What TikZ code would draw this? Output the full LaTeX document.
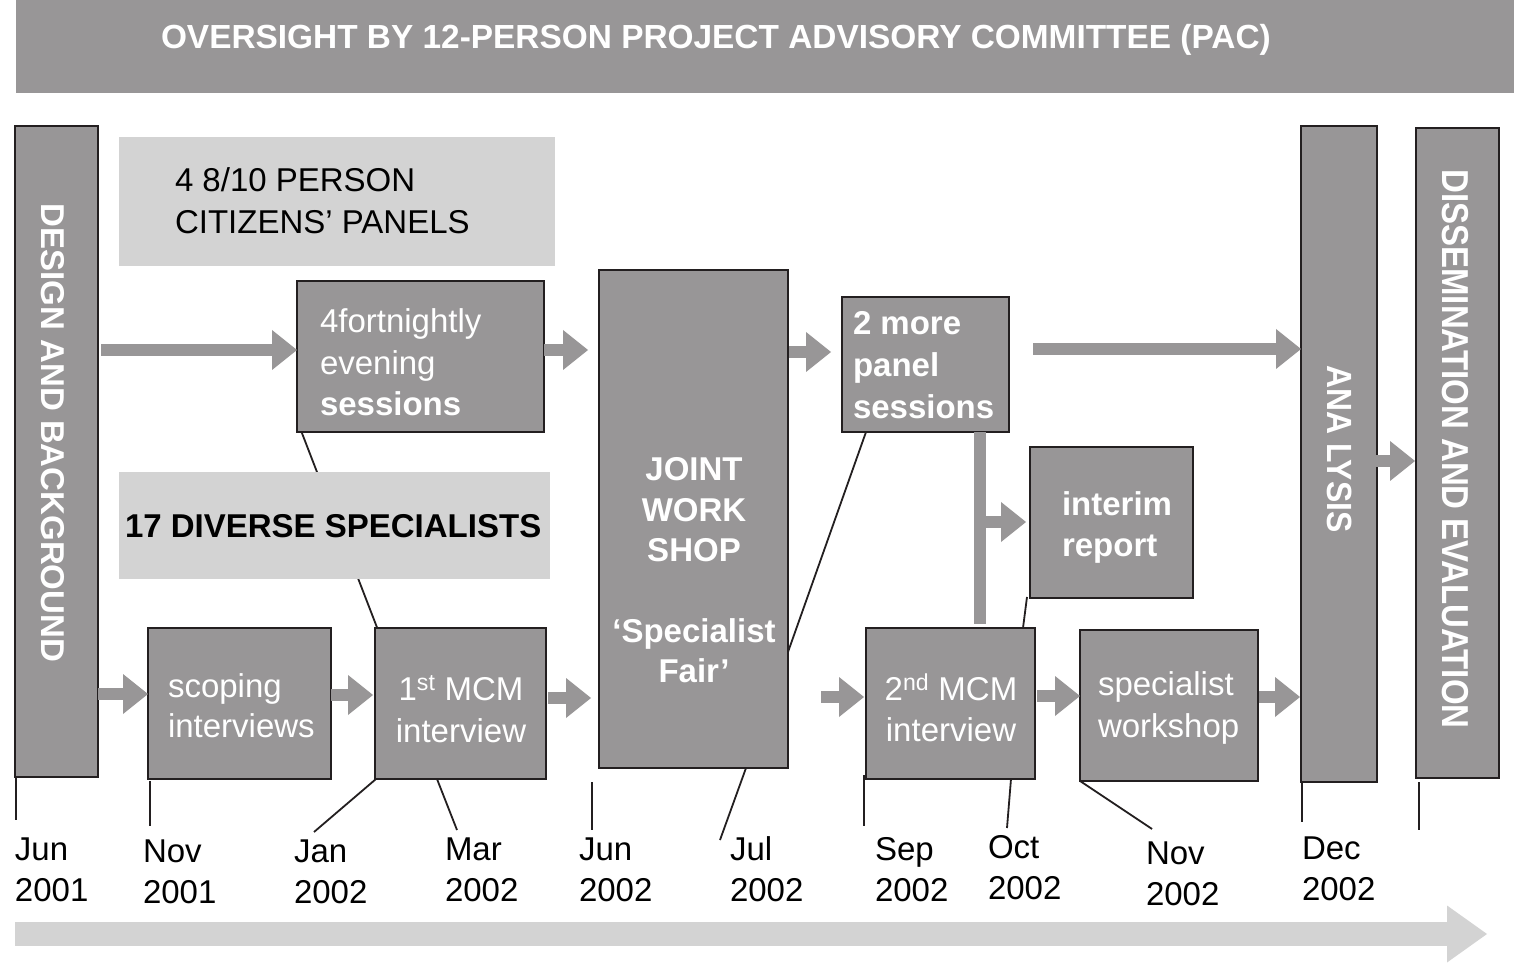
\documentclass[tikz,border=0pt]{standalone}
\usepackage{fontspec}
\setmainfont{Liberation Sans}
\usetikzlibrary{arrows.meta,calc}
\definecolor{boxgray}{RGB}{152,150,151}
\definecolor{paleg}{RGB}{211,211,211}
\definecolor{inkline}{RGB}{35,31,32}
\pgfdeclarelayer{background}
\pgfdeclarelayer{paper}
\pgfsetlayers{paper,background,main}
\newcommand\mylinesl[1]{\begin{tabular}[t]{@{}l@{}}#1\end{tabular}}
\newcommand\mylinesc[1]{\begin{tabular}[t]{@{}c@{}}#1\end{tabular}}
\begin{document}
\begin{tikzpicture}[x=1pt,y=-1pt,
  dbox/.style={draw=inkline, line width=1.3pt, fill=boxgray, inner sep=0pt, outer sep=0pt},
  lbox/.style={fill=paleg, inner sep=0pt, outer sep=0pt},
  txt/.style={inner sep=0pt, outer sep=0pt, font=\fontsize{33}{41}\selectfont},
  wtxt/.style={txt, text=white},
  wbold/.style={txt, text=white, font=\fontsize{33}{41}\selectfont\bfseries},
  btxt/.style={txt, text=black},
  bbold/.style={txt, text=black, font=\fontsize{33}{41}\selectfont\bfseries},
  barrow/.style={draw=boxgray, line width=12pt, -{Triangle[length=25pt,width=40pt,line width=0pt]}},
  tarrow/.style={draw=paleg, line width=24pt, -{Triangle[length=40pt,width=57pt,line width=0pt]}},
  tick/.style={draw=inkline, line width=1.8pt},
]
\useasboundingbox (0,0) rectangle (1519,965);
\begin{pgfonlayer}{paper}
\fill[white] (0,0) rectangle (1519,965);
\end{pgfonlayer}

% banner
\node[fill=boxgray, inner sep=0pt, minimum width=1498pt, minimum height=93pt] (banner) at (765,46.5) {};
\node[wbold, anchor=base west, font=\fontsize{33.4}{41}\selectfont\bfseries] (bannertxt) at (161,49) {OVERSIGHT BY 12-PERSON PROJECT ADVISORY COMMITTEE (PAC)};

% boxes
\node[dbox, minimum width=83pt, minimum height=651pt] (design) at (56.5,451.5) {};
\node[lbox, minimum width=436pt, minimum height=129pt] (panels) at (337,201.5) {};
\node[dbox, minimum width=247pt, minimum height=151pt] (sess) at (420.5,356.5) {};
\node[lbox, minimum width=431pt, minimum height=107pt] (spec) at (334.5,525.5) {};
\node[dbox, minimum width=183pt, minimum height=151pt] (scoping) at (239.5,703.5) {};
\node[dbox, minimum width=171pt, minimum height=151pt] (mcm1) at (460.5,703.5) {};
\node[dbox, minimum width=189pt, minimum height=498pt] (joint) at (693.5,519) {};
\node[dbox, minimum width=167pt, minimum height=135pt] (twomore) at (925.5,364.5) {};
\node[dbox, minimum width=163pt, minimum height=151pt] (interim) at (1111.5,522.5) {};
\node[dbox, minimum width=169pt, minimum height=151pt] (mcm2) at (950.5,703.5) {};
\node[dbox, minimum width=178pt, minimum height=151pt] (wshop) at (1169,705.5) {};
\node[dbox, minimum width=76pt, minimum height=656pt] (analysis) at (1339,454) {};
\node[dbox, minimum width=83pt, minimum height=650pt] (dissem) at (1457.5,453) {};

% free ends of the date ticks
\coordinate (cJun1) at (16,820);
\coordinate (cNov1) at (150,826);
\coordinate (cJan2) at (314,832);
\coordinate (cMar2) at (457,830);
\coordinate (cJun2a) at (592,782);
\coordinate (cJun2b) at (592,830);
\coordinate (cJul2) at (720,840);
\coordinate (cSep2) at (864,826);
\coordinate (cOct2) at (1007,828);
\coordinate (cNov2) at (1152,829);
\coordinate (cDec2) at (1302,822);
\coordinate (cDis) at (1419,830);
\coordinate (tlstart) at (15,934);
\coordinate (tlend) at (1487,934);

\begin{pgfonlayer}{background}
\draw[tick] ($(sess.south west)+(3,-4)$) -- ($(mcm1.north west)+(3,2)$);
\draw[tick] ($(twomore.south west)+(24,0)$) -- ($(joint.south east)+(0,-116)$);
\draw[tick] ($(interim.south west)+(-3,-1)$) -- ($(mcm2.north east)+(-12,0)$);
\draw[tick] ($(design.south west)+(1,-5)$) -- (cJun1);
\draw[tick] ($(scoping.south west)+(2,2)$) -- (cNov1);
\draw[tick] ($(mcm1.south west)+(1,0)$) -- (cJan2);
\draw[tick] ($(mcm1.south west)+(62,0)$) -- (cMar2);
\draw[tick] (cJun2a) -- (cJun2b);
\draw[tick] ($(joint.south east)+(-42,0)$) -- (cJul2);
\draw[tick] ($(mcm2.south west)+(-2,-4)$) -- (cSep2);
\draw[tick] ($(mcm2.south east)+(-24,0)$) -- (cOct2);
\draw[tick] (wshop.south west) -- (cNov2);
\draw[tick] ($(analysis.south west)+(1,-10)$) -- (cDec2);
\draw[tick] ($(dissem.south west)+(3,4)$) -- (cDis);
\end{pgfonlayer}

% block arrows
\draw[barrow] ($(design.east)+(3,-101.5)$) -- ($(sess.west)+(0,-6.5)$);
\draw[barrow] ($(sess.east)+(0,-6.5)$) -- ($(joint.west)+(-11,-169)$);
\draw[barrow] ($(joint.east)+(1,-167)$) -- ($(twomore.west)+(-11,-12.5)$);
\draw[barrow] ($(twomore.east)+(24,-15.5)$) -- ($(analysis.west)+(0,-105)$);
\draw[barrow] ($(design.east)+(0,242.5)$) -- ($(scoping.west)+(0,-9.5)$);
\draw[barrow] ($(scoping.east)+(0,-8.5)$) -- ($(mcm1.west)+(-2,-8.5)$);
\draw[barrow] ($(mcm1.east)+(2,-5.5)$) -- ($(joint.west)+(-8,179)$);
\draw[barrow] ($(joint.east)+(33,178)$) -- ($(mcm2.west)+(-2,-6.5)$);
\draw[barrow] ($(mcm2.east)+(2,-7.5)$) -- ($(wshop.west)+(0,-9.5)$);
\draw[barrow] ($(wshop.east)+(1,-8.5)$) -- ($(analysis.west)+(-1,243)$);
\draw[barrow] ($(analysis.east)+(-2,7)$) -- ($(dissem.west)+(-1,8)$);
\draw[draw=boxgray, line width=12pt] ($(twomore.south)+(54.5,0)$) -- ($(mcm2.north)+(29.5,-4)$);
\draw[barrow] ($(interim.west)+(-45,-0.5)$) -- ($(interim.west)+(-4,-0.5)$);
\draw[tarrow] (tlstart) -- (tlend);

% texts in boxes
\node[wbold, rotate=-90] (designtxt) at (52.5,433) {DESIGN AND BACKGROUND};
\node[btxt, anchor=base west, font=\fontsize{33}{42}\selectfont] (panelstxt) at (175,192) {\mylinesl{4 8/10 PERSON\\CITIZENS’ PANELS}};
\node[wtxt, anchor=base west, font=\fontsize{33}{41.5}\selectfont] (sesstxt) at (320,333) {\mylinesl{4fortnightly\\evening\\\textbf{sessions}}};
\node[bbold, anchor=base west] (spectxt) at (125,537) {17 DIVERSE SPECIALISTS};
\node[wtxt, anchor=base west, font=\fontsize{33}{40}\selectfont] (scopingtxt) at (168,697) {\mylinesl{scoping\\interviews}};
\node[wtxt, anchor=base, font=\fontsize{33}{42}\selectfont] (mcmonetxt) at (461,700) {\mylinesc{1\textsuperscript{st} MCM\\interview}};
\node[wbold, anchor=base, font=\fontsize{33}{40.4}\selectfont\bfseries] (jointtxt) at (694,481) {\mylinesc{JOINT\\WORK\\SHOP\\{}\\‘Specialist\\Fair’}};
\node[wbold, anchor=base west, font=\fontsize{33}{42}\selectfont\bfseries] (twomoretxt) at (853,335) {\mylinesl{2 more\\panel\\sessions}};
\node[wbold, anchor=base west] (interimtxt) at (1062,515) {\mylinesl{interim\\report}};
\node[wtxt, anchor=base] (mcmtwotxt) at (951,700) {\mylinesc{2\textsuperscript{nd} MCM\\interview}};
\node[wtxt, anchor=base west, font=\fontsize{33}{42}\selectfont] (wshoptxt) at (1098,695) {\mylinesl{specialist\\workshop}};
\node[wbold, rotate=-90, font=\fontsize{35}{41}\selectfont\bfseries] (analysistxt) at (1339.5,449) {\scalebox{0.91}[1]{ANA LYSIS}};
\node[wbold, rotate=-90, font=\fontsize{37.5}{41}\selectfont\bfseries] (dissemtxt) at (1455,449) {\scalebox{0.88}[1]{DISSEMINATION AND EVALUATION}};

% dates
\node[btxt, anchor=base west] (dJun1) at (15,860) {\mylinesl{Jun\\2001}};
\node[btxt, anchor=base west] (dNov1) at (143,862) {\mylinesl{Nov\\2001}};
\node[btxt, anchor=base west] (dJan2) at (294,862) {\mylinesl{Jan\\2002}};
\node[btxt, anchor=base west] (dMar2) at (445,860) {\mylinesl{Mar\\2002}};
\node[btxt, anchor=base west] (dJun2) at (579,860) {\mylinesl{Jun\\2002}};
\node[btxt, anchor=base west] (dJul2) at (730,860) {\mylinesl{Jul\\2002}};
\node[btxt, anchor=base west] (dSep2) at (875,860) {\mylinesl{Sep\\2002}};
\node[btxt, anchor=base west] (dOct2) at (988,858) {\mylinesl{Oct\\2002}};
\node[btxt, anchor=base west] (dNov2) at (1146,864) {\mylinesl{Nov\\2002}};
\node[btxt, anchor=base west] (dDec2) at (1302,859) {\mylinesl{Dec\\2002}};
\end{tikzpicture}
\end{document}
